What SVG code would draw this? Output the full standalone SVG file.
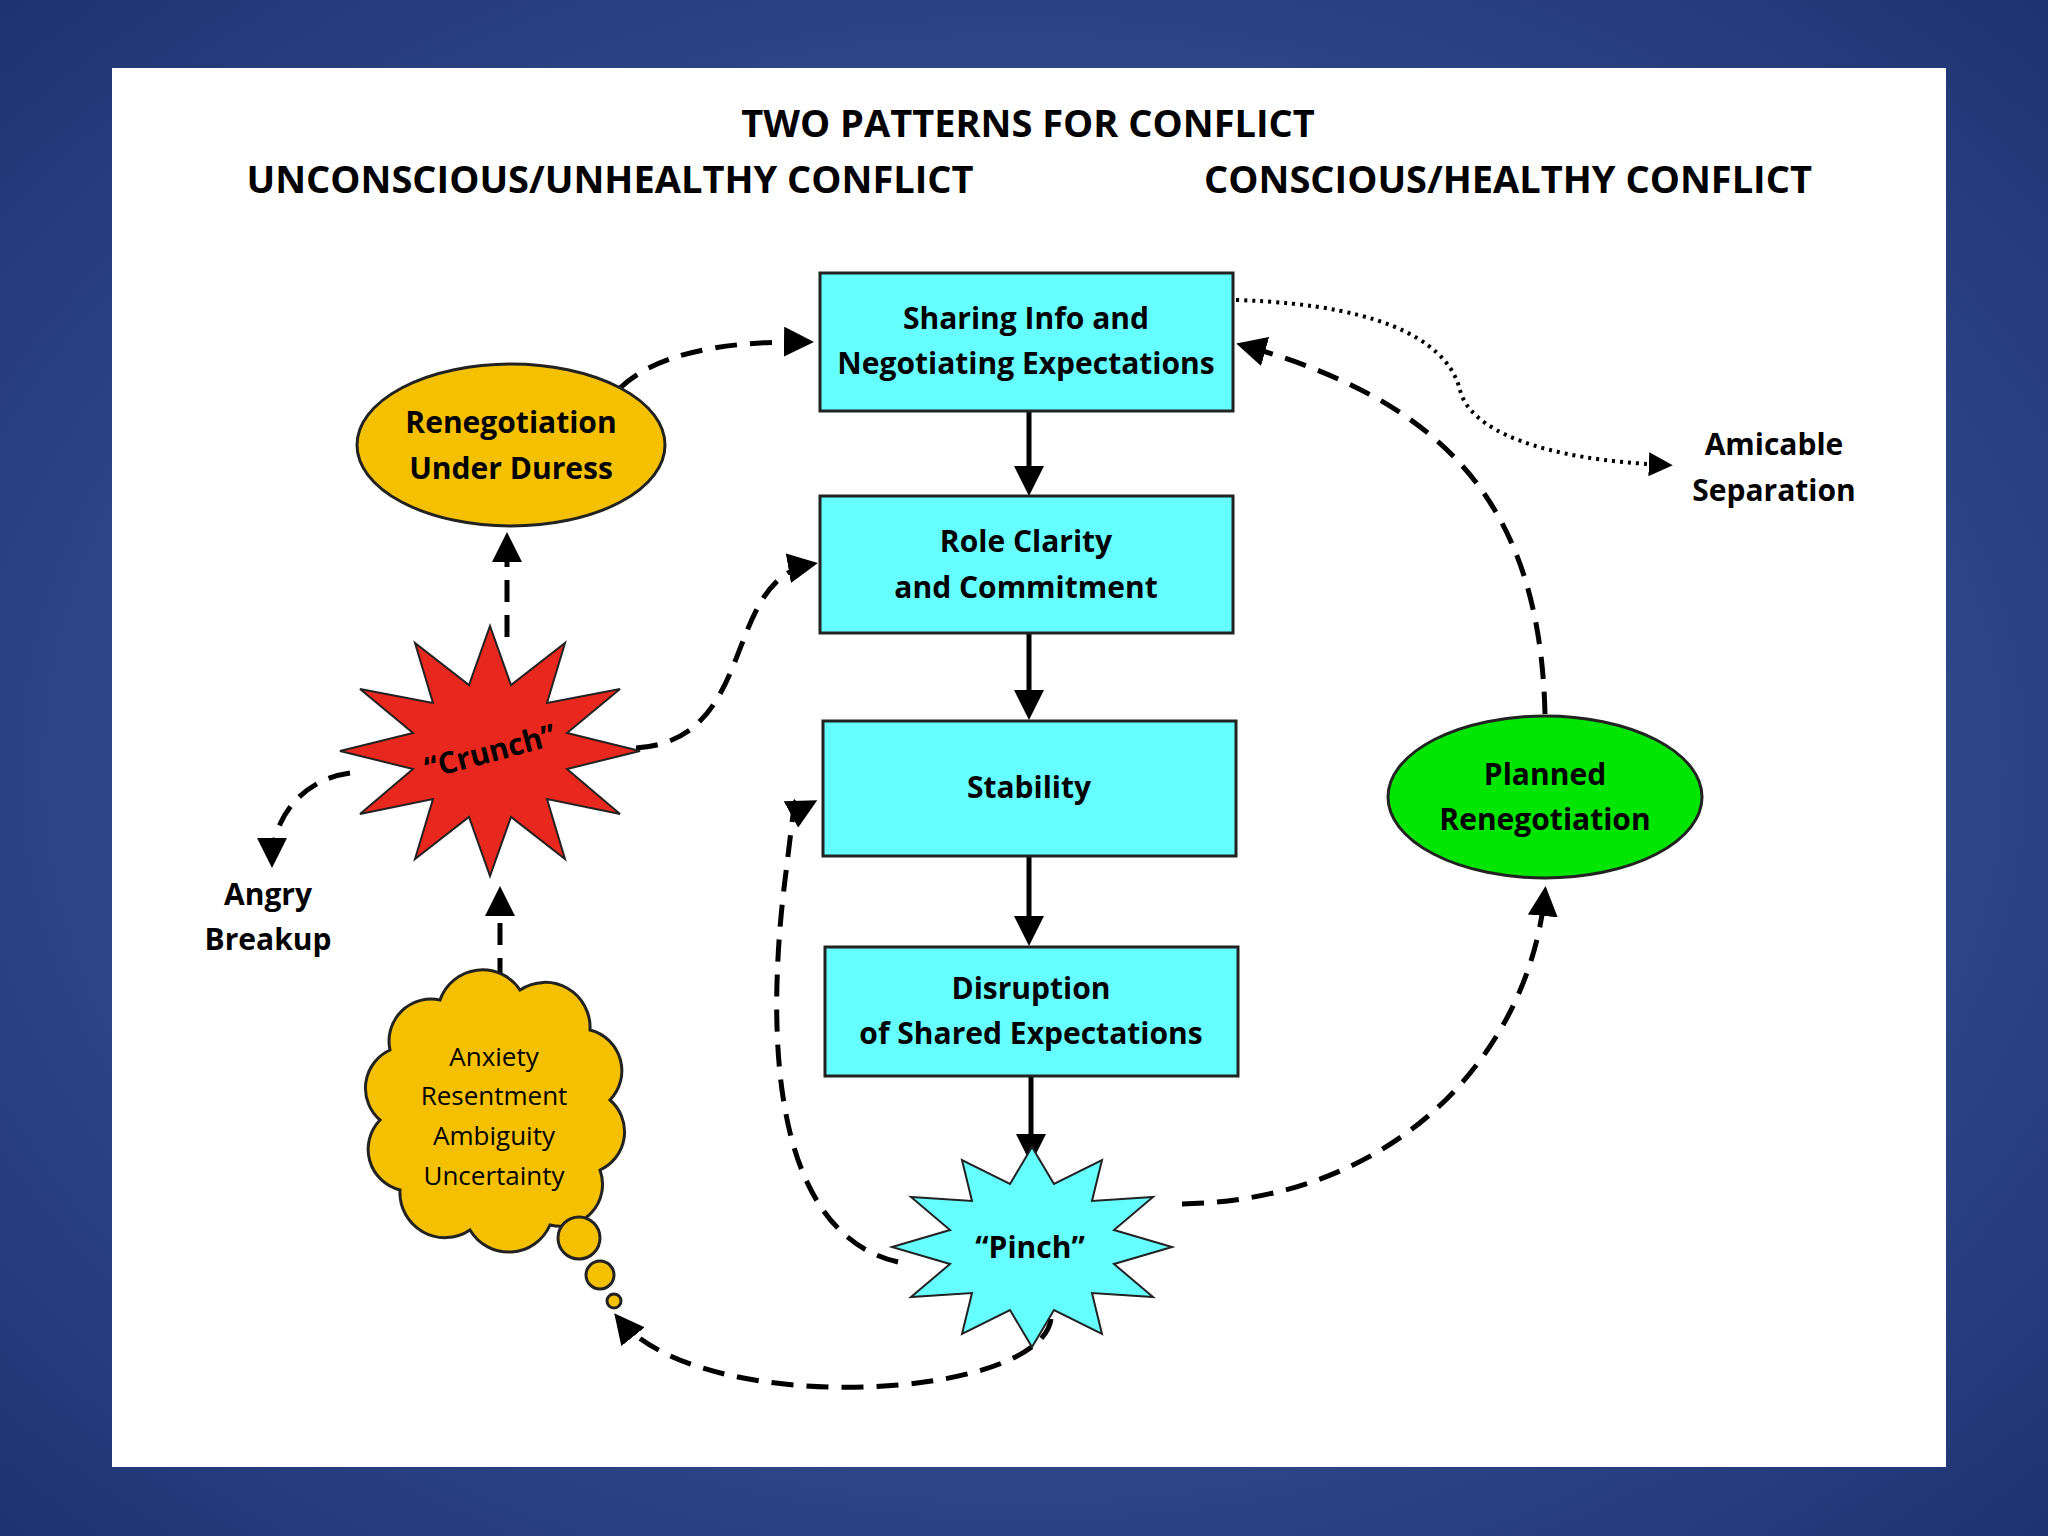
<svg xmlns="http://www.w3.org/2000/svg" width="2048" height="1536" viewBox="0 0 2048 1536">
<defs>
<radialGradient id="bg" cx="50%" cy="50%" r="75%">
<stop offset="0" stop-color="#4a69ab"/><stop offset="1" stop-color="#1c2f6e"/>
</radialGradient>
<marker id="ah" viewBox="0 0 10 10" refX="8" refY="5" markerWidth="6" markerHeight="6" markerUnits="strokeWidth" orient="auto">
<path d="M0,0 L10,5 L0,10 z" fill="#000"/>
</marker>
<style>
text{font-family:"Open Sans","Liberation Sans",sans-serif;fill:#000;text-anchor:middle}
.t{font-weight:bold;font-size:38px}
.b{font-weight:bold;font-size:30px}
.c{font-size:26px}
.box{fill:#66ffff;stroke:#222;stroke-width:3}
.sol{fill:none;stroke:#000;stroke-width:5;marker-end:url(#ah)}
.dash{fill:none;stroke:#000;stroke-width:5;stroke-dasharray:22 13;marker-end:url(#ah)}
.dot{fill:none;stroke:#000;stroke-width:4;stroke-dasharray:3 5;marker-end:url(#ah)}
</style>
</defs>
<rect width="2048" height="1536" fill="url(#bg)"/>
<rect x="112" y="68" width="1834" height="1399" fill="#fff"/>
<text class="t" x="1028" y="137">TWO PATTERNS FOR CONFLICT</text>
<text class="t" x="610" y="193">UNCONSCIOUS/UNHEALTHY CONFLICT</text>
<text class="t" x="1508" y="193">CONSCIOUS/HEALTHY CONFLICT</text>

<g id="connectors">
<path class="sol" d="M1029,411 V490"/>
<path class="sol" d="M1029,633 V714"/>
<path class="sol" d="M1029,856 V940"/>
<path class="sol" d="M1031,1076 V1158"/>
<path class="dash" d="M620,388 Q670,340 808,342"/>
<path class="dash" d="M507,637 V538"/>
<path class="dash" d="M500,980 V892"/>
<path class="dash" d="M350,773 C300,780 272,820 272,862"/>
<path class="dash" d="M636,748 C760,740 720,580 812,564"/>
<path class="dash" d="M898,1262 C760,1230 770,1000 785,880 S790,815 812,803"/>
<path class="dash" d="M1182,1204 C1400,1200 1530,1050 1545,892"/>
<path class="dash" d="M1545,714 C1540,500 1440,400 1242,345"/>
<path class="dot" d="M1236,300 C1400,305 1450,350 1460,390 S1540,460 1668,465"/>
<path class="dash" d="M1051,1319 C1040,1400 700,1420 618,1318"/>
</g>

<g id="box1"><rect class="box" x="820" y="273" width="413" height="138"/>
<text class="b" x="1026" y="329">Sharing Info  and</text><text class="b" x="1026" y="374">Negotiating Expectations</text></g>
<g id="box2"><rect class="box" x="820" y="496" width="413" height="137"/>
<text class="b" x="1026" y="552">Role Clarity</text><text class="b" x="1026" y="598">and Commitment</text></g>
<g id="box3"><rect class="box" x="823" y="721" width="413" height="135"/>
<text class="b" x="1029" y="798">Stability</text></g>
<g id="box4"><rect class="box" x="825" y="947" width="413" height="129"/>
<text class="b" x="1031" y="999">Disruption</text><text class="b" x="1031" y="1044">of Shared Expectations</text></g>

<g id="reneg"><ellipse cx="511" cy="445" rx="154" ry="81" fill="#f5c000" stroke="#222" stroke-width="3"/>
<text class="b" x="511" y="433">Renegotiation</text><text class="b" x="511" y="479">Under Duress</text></g>
<g id="planned"><ellipse cx="1545" cy="797" rx="157" ry="81" fill="#00e600" stroke="#222" stroke-width="3"/>
<text class="b" x="1545" y="785">Planned</text><text class="b" x="1545" y="830">Renegotiation</text></g>

<g id="crunch"><polygon fill="#e8281e" stroke="#222" stroke-width="2" points="640,751 567,769 620,814 547,799 565,859 511,817 490,876 469,817 415,859 433,799 360,814 413,769 340,751 413,733 360,689 433,703 415,643 469,685 490,626 511,685 565,643 547,703 620,689 567,733"/>
<text class="b" x="490" y="762" transform="rotate(-15 490 751)">“Crunch”</text></g>

<g id="pinch"><polygon fill="#66ffff" stroke="#222" stroke-width="2" points="1172,1247 1114,1264 1153,1297 1092,1293 1102,1334 1054,1310 1032,1347 1010,1310 962,1334 972,1293 911,1297 950,1264 892,1247 950,1230 911,1197 972,1201 962,1160 1010,1184 1032,1147 1054,1184 1102,1160 1092,1201 1153,1197 1114,1230"/>
<text class="b" x="1030" y="1258">“Pinch”</text></g>

<g id="cloud" fill="#f5c000" stroke="#222" stroke-width="3">
<path d="M440,1000 A45,45 0 0 1 520,990 A45,45 0 0 1 590,1030 A42,42 0 0 1 610,1100 A42,42 0 0 1 600,1170 A42,42 0 0 1 550,1225 A45,45 0 0 1 470,1230 A45,45 0 0 1 400,1190 A42,42 0 0 1 380,1120 A42,42 0 0 1 390,1050 A42,42 0 0 1 440,1000 Z"/>
<circle cx="579" cy="1238" r="21"/><circle cx="600" cy="1275" r="14"/><circle cx="614" cy="1301" r="7"/>
<text class="c" x="494" y="1066" stroke="none">Anxiety</text>
<text class="c" x="494" y="1105" stroke="none">Resentment</text>
<text class="c" x="494" y="1145" stroke="none">Ambiguity</text>
<text class="c" x="494" y="1185" stroke="none">Uncertainty</text></g>

<g id="angry"><text class="b" x="268" y="905">Angry</text><text class="b" x="268" y="950">Breakup</text></g>
<g id="amicable"><text class="b" x="1774" y="455">Amicable</text><text class="b" x="1774" y="501">Separation</text></g>
</svg>
